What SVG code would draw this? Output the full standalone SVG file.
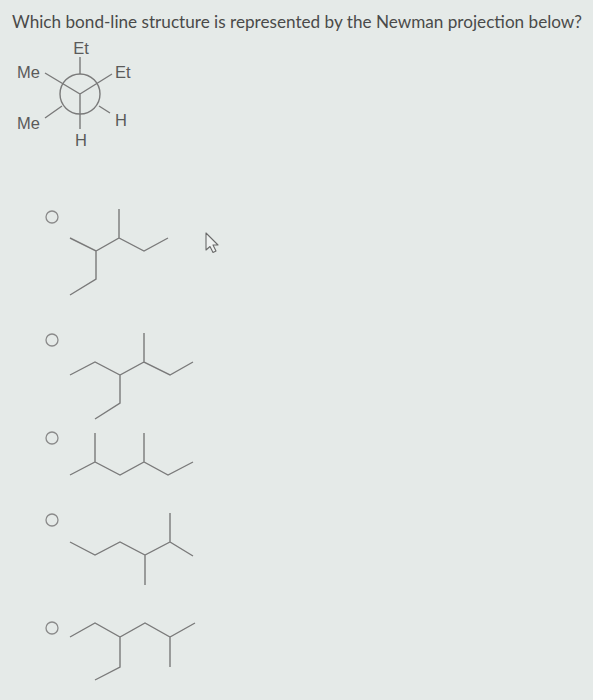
<svg xmlns="http://www.w3.org/2000/svg" width="593" height="700" viewBox="0 0 593 700">
<style>
.t{font-family:Lato,"Liberation Sans",sans-serif;fill:#4a4a4a}
.l{font-family:"Liberation Sans",Arial,sans-serif;font-size:16.5px;fill:#5a5a5a}
.b{fill:none;stroke:#7a7a7a;stroke-width:1.4;stroke-linejoin:miter;stroke-linecap:butt}
.r{fill:none;stroke:#8a8a8a;stroke-width:1.3}
</style>
<rect width="593" height="700" fill="#e5eae8"/>
<text class="t" x="12" y="28" font-size="17" textLength="570" lengthAdjust="spacingAndGlyphs">Which bond-line structure is represented by the Newman projection below?</text>
<g id="newman">
<circle cx="80" cy="94" r="20" class="b"/>
<path class="b" d="M45,73 L80,94 L112,74 M80,94 L80,129 M80,57 L80,74 M62,106 L45,118 M99,106 L110,113"/>
<text class="l" x="81" y="54" text-anchor="middle">Et</text>
<text class="l" x="17" y="78">Me</text>
<text class="l" x="115" y="78">Et</text>
<text class="l" x="17" y="129">Me</text>
<text class="l" x="115" y="126">H</text>
<text class="l" x="81" y="146" text-anchor="middle">H</text>
</g>
<g id="option1">
<circle class="r" cx="52" cy="217" r="6"/>
<path class="b" d="M70,238 L96,251 L119,238 L144,251 L168,238 M119,238 L119,209 M96,251 L96,279 L70,295"/>
</g>
<g id="option2">
<circle class="r" cx="52" cy="340" r="6"/>
<path class="b" d="M70,375 L95,362 L120,375 L144,362 L170,375 L193,362 M144,362 L144,333 M120,375 L120,403 L95,419"/>
</g>
<g id="option3">
<circle class="r" cx="52" cy="438" r="6"/>
<path class="b" d="M70,475 L95,462 L120,475 L144,462 L168,475 L193,462 M95,462 L95,433 M144,462 L144,433"/>
</g>
<g id="option4">
<circle class="r" cx="52" cy="520" r="6"/>
<path class="b" d="M70,542 L95,555 L120,542 L145,555 L170,542 L193,556 M170,542 L170,513 M145,555 L145,585"/>
</g>
<g id="option5">
<circle class="r" cx="52" cy="628" r="6"/>
<path class="b" d="M70,637 L95,623 L120,637 L145,623 L170,637 L195,623 M170,637 L170,667 M120,637 L120,667 L95,680"/>
</g>
<g id="cursor">
<path d="M206,233 L206,250 L210,246.5 L213,252.5 L216,251 L213,245 L218,245 Z" fill="#eef1f0" stroke="#6a6a6a" stroke-width="1.1" stroke-linejoin="round"/>
</g>
</svg>
